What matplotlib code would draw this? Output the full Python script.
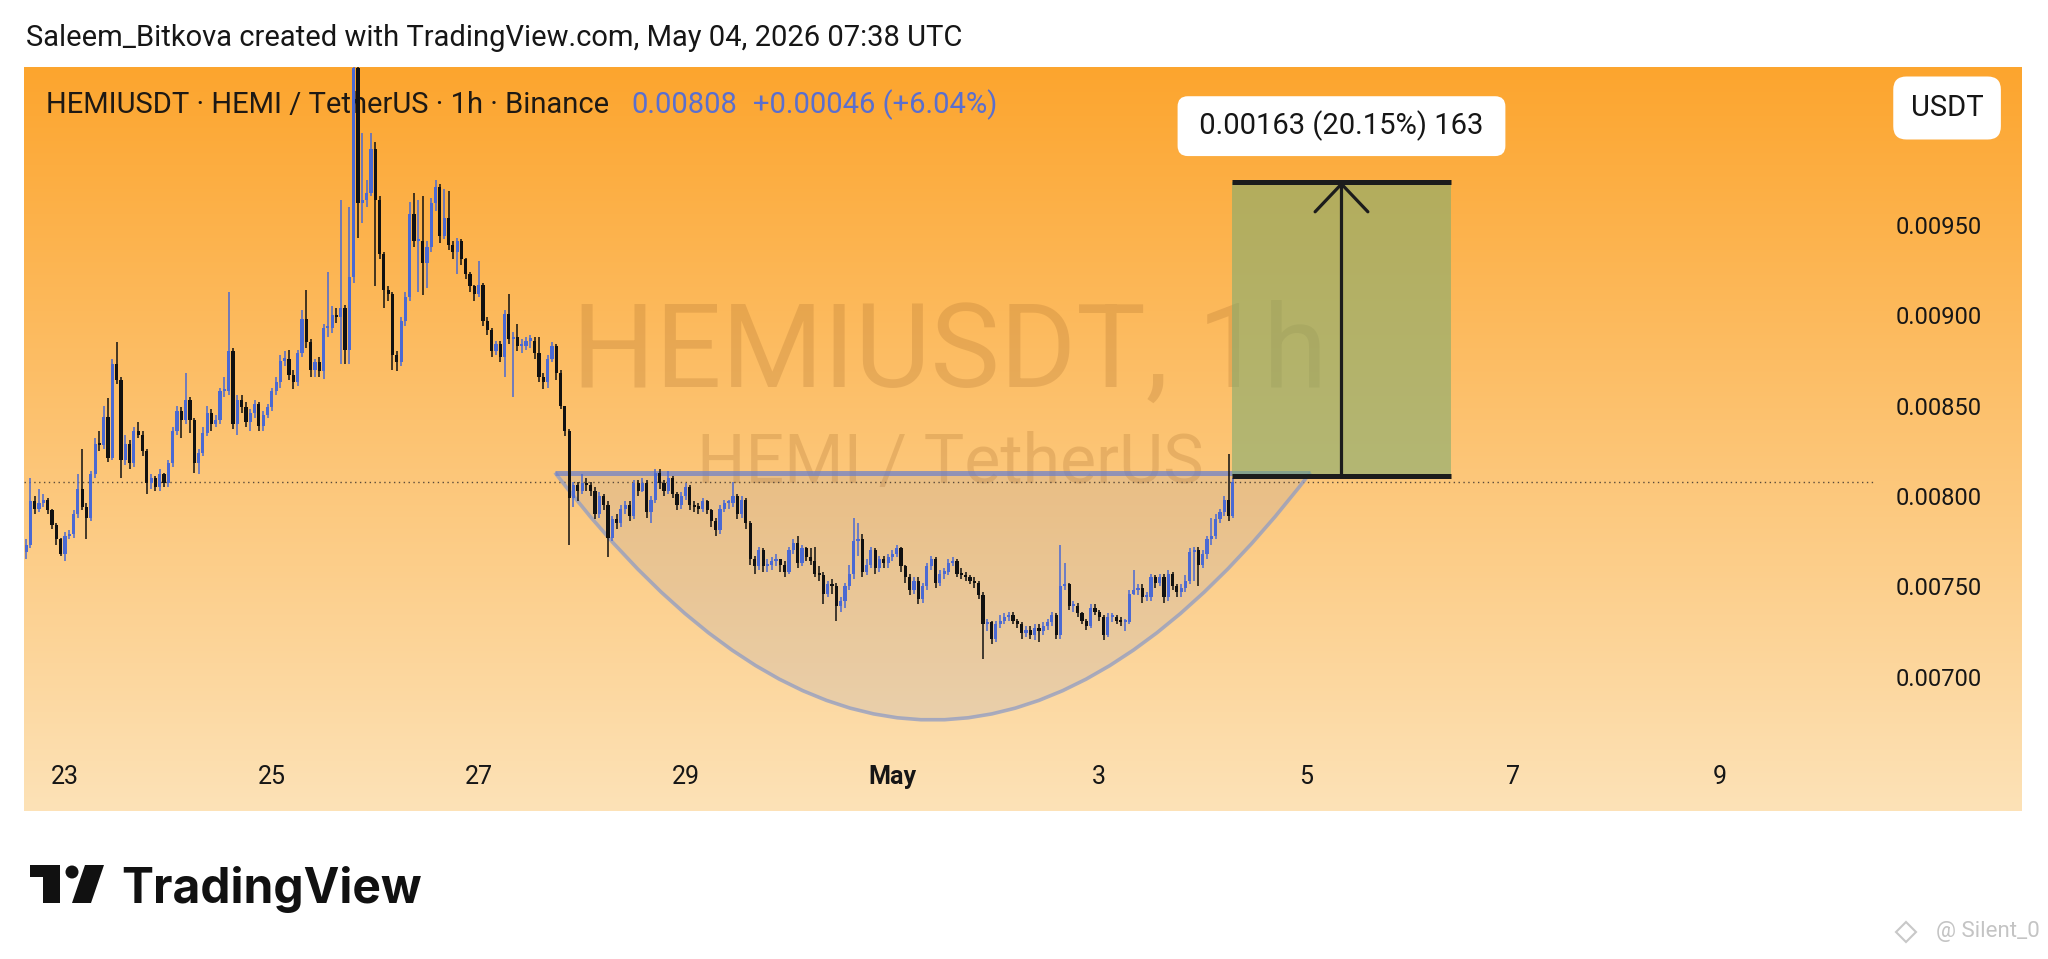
import matplotlib
matplotlib.use("Agg")
import matplotlib.dates as mdates
import matplotlib.pyplot as plt
import numpy as np
import pandas as pd
from matplotlib.patches import Circle, PathPatch, Polygon, Rectangle
from matplotlib.path import Path
from matplotlib.transforms import IdentityTransform

plt.rcParams["font.family"] = ["Roboto", "DejaVu Sans"]

# hourly HEMIUSDT candles, prices in 1e-5 USDT
FIRST_CANDLE = "2026-04-22 15:00"
OPEN_FIRST = 769
closes = [
    773, 797, 793, 796, 798, 792, 784, 776, 768, 778, 779, 790, 804, 794, 788, 812, 829, 828, 844, 821,
    873, 864, 820, 829, 818, 836, 834, 825, 807, 810, 805, 812, 807, 818, 836, 847, 842, 853, 842, 818,
    824, 835, 846, 840, 842, 858, 858, 880, 840, 853, 849, 841, 846, 851, 839, 845, 849, 858, 863, 875,
    876, 867, 863, 879, 898, 885, 870, 874, 869, 893, 893, 900, 899,
    904, 881, 921, 1037, 962, 964, 968, 992, 964, 934, 914, 912, 878, 874, 897, 910, 956, 941, 941, 929,
    938, 962, 971, 944, 954, 939, 935, 941, 931, 923, 916, 912, 917, 897, 892, 880, 884, 877, 901, 887,
    888, 883, 883, 886, 886, 879, 866, 863, 876, 883, 868, 850,
    836, 799, 806, 803, 807, 806, 803, 790, 800, 795, 777, 787, 785, 793, 795, 789, 807, 803, 807, 791,
    798, 813, 807, 803, 810, 801, 795, 800, 805, 795, 794, 793, 797, 792, 786, 781, 793, 796, 796, 800,
    790, 798, 785, 765, 761, 770, 761, 762, 764, 765,
    762, 758, 770, 774, 763, 771, 766, 764, 757, 756, 746, 751, 750, 739, 742, 750, 757, 775, 776, 758,
    762, 770, 760, 765, 763, 766, 768, 771, 761, 755, 748, 753, 743, 750, 761, 765, 752, 757, 758, 763,
    764, 757, 756, 755, 753, 752, 745, 729, 730, 721, 729, 731, 733, 734, 731, 729, 724, 726, 723, 727,
    725, 728, 730, 734, 723, 750, 751, 739, 739, 735, 731, 728, 738, 736, 733, 723, 733, 733, 731, 730,
    730, 746, 748, 749, 744, 744, 755, 752, 755, 744, 757, 750, 747, 749, 753, 769, 770, 762, 768, 776,
    778, 787, 791, 798, 789, 808,
]
highs = [
    776, 810, 800, 804, 801, 799, 793, 785, 777, 780, 781, 792, 812, 826, 796, 814, 832, 836, 850, 854,
    876, 885, 866, 834, 831, 838, 841, 836, 826, 812, 811, 815, 813, 820, 838, 850, 849, 868, 855, 843,
    826, 838, 850, 848, 845, 860, 866, 913, 882, 856, 856, 852, 848, 853, 852, 847, 851, 860, 866, 878,
    880, 881, 870, 881, 903, 914, 887, 876, 877, 895, 924, 905, 904,
    964, 906, 960, 1045, 1041, 1001, 975, 1001, 996, 966, 935, 916, 913, 880, 899, 913, 963, 968, 964, 966,
    941, 965, 975, 973, 970, 969, 941, 943, 942, 932, 924, 917, 930, 918, 899, 893, 886, 886, 903, 912,
    891, 895, 887, 888, 889, 888, 888, 868, 878, 885, 884, 870,
    850, 837, 808, 808, 812, 810, 808, 805, 802, 801, 797, 789, 790, 795, 797, 797, 809, 809, 810, 809,
    800, 815, 815, 809, 814, 811, 802, 802, 807, 806, 797, 796, 799, 798, 793, 788, 795, 798, 798, 808,
    801, 800, 799, 786, 767, 772, 771, 765, 766, 768,
    765, 764, 772, 776, 778, 773, 772, 771, 772, 761, 758, 753, 754, 752, 744, 752, 762, 788, 785, 779,
    765, 772, 771, 767, 767, 768, 770, 773, 772, 762, 757, 755, 755, 752, 763, 767, 766, 759, 760, 765,
    766, 765, 760, 758, 756, 755, 753, 747, 732, 731, 731, 734, 735, 736, 736, 732, 730, 728, 728, 729,
    729, 730, 732, 736, 735, 773, 763, 752, 742, 741, 736, 732, 740, 740, 737, 734, 735, 735, 734, 733,
    732, 748, 759, 751, 751, 747, 757, 756, 757, 757, 759, 758, 751, 751, 756, 771, 772, 772, 770, 778,
    788, 790, 793, 800, 823, 810,
]
lows = [
    765, 771, 790, 791, 794, 790, 782, 773, 767, 764, 776, 777, 788, 792, 776, 786, 810, 825, 826, 819,
    820, 862, 810, 817, 815, 816, 832, 822, 801, 804, 803, 803, 805, 805, 816, 834, 832, 840, 835, 813,
    812, 822, 833, 836, 838, 840, 855, 856, 837, 834, 846, 838, 836, 843, 836, 836, 843, 847, 856, 860,
    872, 864, 859, 861, 877, 882, 866, 866, 866, 865, 888, 890, 896,
    873, 873, 873, 918, 943, 951, 960, 966, 916, 931, 904, 908, 870, 869, 872, 894, 908, 938, 913, 911,
    915, 935, 958, 940, 942, 936, 931, 923, 928, 920, 913, 908, 910, 894, 889, 877, 878, 874, 866, 884,
    855, 880, 879, 881, 882, 876, 863, 859, 860, 874, 864, 848,
    833, 773, 794, 797, 801, 803, 800, 787, 788, 792, 766, 775, 782, 783, 790, 786, 787, 800, 802, 788,
    785, 796, 804, 800, 801, 799, 792, 793, 798, 792, 791, 790, 791, 790, 783, 778, 779, 791, 793, 794,
    787, 788, 782, 762, 757, 759, 758, 758, 759, 761,
    758, 755, 757, 768, 760, 761, 764, 762, 755, 753, 740, 744, 746, 731, 736, 738, 748, 754, 767, 755,
    756, 760, 757, 758, 760, 760, 764, 766, 758, 752, 745, 746, 740, 741, 748, 759, 749, 750, 754, 756,
    761, 755, 754, 753, 751, 749, 743, 710, 725, 718, 719, 727, 729, 731, 729, 727, 721, 722, 721, 720,
    719, 723, 726, 728, 721, 721, 748, 737, 736, 733, 729, 726, 727, 734, 731, 720, 722, 730, 729, 728,
    725, 729, 745, 745, 741, 742, 742, 749, 750, 741, 742, 748, 744, 744, 747, 751, 753, 750, 760, 765,
    773, 776, 785, 789, 786, 788,
]

date_ticks = ["2026-04-23", "2026-04-25", "2026-04-27", "2026-04-29", "2026-05-01",
              "2026-05-03", "2026-05-05", "2026-05-07", "2026-05-09"]
date_labels = ["23", "25", "27", "29", "May", "3", "5", "7", "9"]
price_ticks = [0.0070, 0.0075, 0.0080, 0.0085, 0.0090, 0.0095]
view_start, view_end = "2026-04-22 14:30", "2026-05-11 22:06"
price_min, price_max = 0.006256, 0.010375

last_price = 0.00808
price_line_end = "2026-05-10 12:00"
change_text = "+0.00046 (+6.04%)"

# cup drawing
cup_start, cup_end = "2026-04-27 17:42", "2026-05-05 01:00"
cup_rim, cup_bottom = 0.00813, 0.00676

# price range tool
range_start, range_end = "2026-05-04 06:48", "2026-05-06 09:36"
range_low, range_high = 0.00811, 0.00974
range_label = "0.00163 (20.15%) 163"

UP = "#4a69d3"
DOWN = "#111111"
INK = "#161616"
W, H = 2048, 959


def dnum(s):
    return mdates.date2num(pd.Timestamp(s))


fig = plt.figure(figsize=(W / 100, H / 100), dpi=100, facecolor="white")
ax = fig.add_axes([24 / W, 1 - 811 / H, 1998 / W, 744 / H])

# orange gradient background
top = np.array([252, 165, 46]) / 255
bot = np.array([253, 226, 183]) / 255
t = np.linspace(0, 1, 256)[:, None]
grad = (top * (1 - t) + bot * t)[:, None, :]
ax.imshow(grad, extent=[0, 1, 0, 1], transform=ax.transAxes, aspect="auto", zorder=0)

# candles
times = pd.date_range(FIRST_CANDLE, periods=len(closes), freq="h")
x = mdates.date2num(times)
c = np.array(closes) / 1e5
o = np.array([OPEN_FIRST] + closes[:-1]) / 1e5
hi = np.array(highs) / 1e5
lo = np.array(lows) / 1e5
colors = np.where(c >= o, UP, DOWN)
body_lo = np.minimum(o, c)
body_h = np.maximum(np.abs(c - o), 0.000012)
ax.vlines(x, np.minimum(lo, body_lo), np.maximum(hi, body_lo + body_h), colors=colors, lw=1.1, zorder=3)
ax.bar(x, body_h, bottom=body_lo, width=0.74 / 24, color=colors, lw=0, zorder=3)

# current price dotted line
ax.hlines(last_price, dnum(view_start), dnum(price_line_end), colors="#5a4a3a", lw=1.0,
          linestyles=(0, (1, 2.5)), zorder=2)

# cup: quadratic curve under a rim line
x0, x1 = dnum(cup_start), dnum(cup_end)
ctrl = (0.5 * (x0 + x1), 2 * cup_bottom - cup_rim)
fill_path = Path([(x0, cup_rim), ctrl, (x1, cup_rim), (x0, cup_rim), (x0, cup_rim)],
                 [Path.MOVETO, Path.CURVE3, Path.CURVE3, Path.LINETO, Path.CLOSEPOLY])
ax.add_patch(PathPatch(fill_path, facecolor="#8a96c4", alpha=0.16, lw=0, zorder=1))
curve_path = Path([(x0, cup_rim), ctrl, (x1, cup_rim)], [Path.MOVETO, Path.CURVE3, Path.CURVE3])
ax.add_patch(PathPatch(curve_path, facecolor="none", edgecolor="#8f9cc4", alpha=0.75, lw=2.6, zorder=2))
ax.plot([x0, x1], [cup_rim, cup_rim], color="#6a7fcc", alpha=0.7, lw=3.6, solid_capstyle="butt", zorder=2)

# price range box
r0, r1 = dnum(range_start), dnum(range_end)
rm = 0.5 * (r0 + r1)
ax.add_patch(Rectangle((r0, range_low), r1 - r0, range_high - range_low,
                       facecolor=(126 / 255, 172 / 255, 112 / 255), alpha=0.58, lw=0, zorder=2))
ax.hlines([range_low, range_high], r0, r1, colors="#1c1c1c", lw=3.6, zorder=4)
ax.annotate("", xy=(rm, range_high), xytext=(rm, range_low),
            arrowprops=dict(arrowstyle="->,head_length=2.0,head_width=1.9", color="#1c1c1c",
                            lw=2.3, shrinkA=0, shrinkB=0), zorder=4)
ax.annotate(" " + range_label + " ", xy=(rm, range_high), xytext=(0, 40), textcoords="offset points",
            ha="center", va="center", fontsize=21, color=INK, zorder=5,
            bbox=dict(boxstyle="round,pad=0.5,rounding_size=0.35", fc="white", ec="none"))

# watermark
ax.text(0.4635, 0.613, "HEMIUSDT, 1h", transform=ax.transAxes, ha="center", va="center",
        fontsize=84, color=(150 / 255, 90 / 255, 30 / 255), alpha=0.2, zorder=1)
ax.text(0.4635, 0.466, "HEMI / TetherUS", transform=ax.transAxes, ha="center", va="center",
        fontsize=49, color=(150 / 255, 90 / 255, 30 / 255), alpha=0.2, zorder=1)

# legend line
ax.text((46 - 24) / 1998, (811 - 105) / 744, "HEMIUSDT · HEMI / TetherUS · 1h · Binance",
        transform=ax.transAxes, va="center", fontsize=21, color="#1e1914", zorder=1)
ax.text((631 - 24) / 1998, (811 - 105) / 744, f"{last_price:.5f}", transform=ax.transAxes,
        va="center", fontsize=21, color="#5a6fcf", zorder=1)
ax.text((753 - 24) / 1998, (811 - 105) / 744, change_text, transform=ax.transAxes,
        va="center", fontsize=21, color="#5a6fcf", zorder=1)
ax.text(0.9625, (811 - 108) / 744, "USDT", transform=ax.transAxes, ha="center", va="center",
        fontsize=21, color=INK, zorder=5,
        bbox=dict(boxstyle="round,pad=0.6,rounding_size=0.45", fc="white", ec="none"))

# axes
ax.set_xlim(dnum(view_start), dnum(view_end))
ax.set_ylim(price_min, price_max)
ax.set_xticks([dnum(d) for d in date_ticks], date_labels)
for lab in ax.get_xticklabels():
    if lab.get_text() == "May":
        lab.set_fontweight("bold")
ax.yaxis.tick_right()
ax.set_yticks(price_ticks, [f"{p:.5f}" for p in price_ticks])
ax.tick_params(axis="x", length=0, pad=-33, labelsize=18, labelcolor=INK)
ax.tick_params(axis="y", length=0, pad=-91, labelsize=17, labelcolor=INK)
for s in ax.spines.values():
    s.set_visible(False)

# header and footer
fig.text(26 / W, 1 - 38 / H, "Saleem_Bitkova created with TradingView.com, May 04, 2026 07:38 UTC",
         va="center", fontsize=21, color=INK)


def px(pts):
    return [(a, H - b) for a, b in pts]


for patch in [
    Polygon(px([(30, 865), (60, 865), (60, 903), (43, 903), (43, 877), (30, 877)]), closed=True),
    Circle((72, H - 872), 6.5),
    Polygon(px([(85, 865), (104, 865), (91, 903), (72, 903)]), closed=True),
]:
    patch.set_facecolor("#111111")
    patch.set_edgecolor("none")
    patch.set_transform(IdentityTransform())
    fig.add_artist(patch)

icon = Polygon(px([(1906, 922), (1916, 932), (1906, 942), (1896, 932)]), closed=True,
               facecolor="none", edgecolor="#c8c8c8", lw=1.5)
icon.set_transform(IdentityTransform())
fig.add_artist(icon)

fig.text(121 / W, (H - 903) / H, "TradingView", va="baseline", fontsize=34.5,
         fontweight="bold", family=["Inter", "DejaVu Sans"], color="#111111")
fig.text(2040 / W, 1 - 932 / H, "@ Silent_0", ha="right", va="center", fontsize=16, color="#c4c4c4")

fig.savefig("out.png", dpi=100, facecolor="white")
